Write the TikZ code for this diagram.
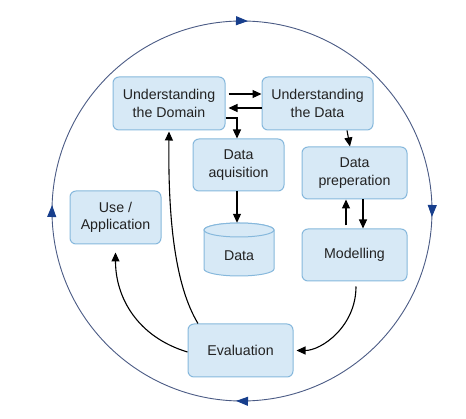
\documentclass[tikz,border=0pt]{standalone}
\usepackage{fontspec}
\setmainfont{Liberation Sans}
\usetikzlibrary{arrows.meta,decorations.markings}
\definecolor{boxfill}{HTML}{D7E9F6}
\definecolor{boxline}{HTML}{86B8DC}
\definecolor{ringline}{HTML}{4A5A84}
\definecolor{ringhead}{HTML}{173E8C}
\definecolor{txtcol}{HTML}{222222}
\begin{document}
\begin{tikzpicture}[x=1pt,y=-1pt,
  box/.style={draw=boxline,fill=boxfill,line width=1pt,rounded corners=6pt,
    align=center,text=txtcol,font=\fontsize{14.2}{17.3}\selectfont,inner sep=0pt},
  cylbox/.style={draw=boxline,fill=boxfill,line width=1pt},
  txt/.style={align=center,text=txtcol,font=\fontsize{14.2}{17.3}\selectfont,inner sep=0pt},
  arr/.style={-{Triangle[length=9pt,width=8pt]},line width=1.1pt,black},
  ring/.style={draw=ringline,line width=0.9pt,
    decoration={markings,
      mark=at position 0.005 with {\arrow{Triangle[length=12pt,width=9pt,color=ringhead]}},
      mark=at position 0.255 with {\arrow{Triangle[length=12pt,width=9pt,color=ringhead]}},
      mark=at position 0.505 with {\arrow{Triangle[length=12pt,width=9pt,color=ringhead]}},
      mark=at position 0.755 with {\arrow{Triangle[length=12pt,width=9pt,color=ringhead]}}},
    postaction={decorate}}]
\useasboundingbox (0,0) rectangle (466,419);
% outer cycle
\path[ring] (432,211) arc[start angle=0,end angle=-360,radius=190pt];
% boxes
\node[box,minimum width=112pt,minimum height=53pt] (dom) at (169,103.5) {Understanding\\the Domain};
\node[box,minimum width=111pt,minimum height=53pt] (dat) at (317.5,103.5) {Understanding\\the Data};
\node[box,minimum width=91pt,minimum height=52pt] (acq) at (238.5,165) {Data\\aquisition};
\node[box,minimum width=105pt,minimum height=52pt] (prep) at (354.5,173) {Data\\preperation};
\node[box,minimum width=91pt,minimum height=53pt] (use) at (115.5,217.5) {Use /\\Application};
\node[box,minimum width=105pt,minimum height=52pt] (mod) at (354.5,255) {Modelling};
\node[box,minimum width=105pt,minimum height=53pt] (eval) at (240.5,350.5) {Evaluation};
% cylinder
\filldraw[cylbox] (204,230) -- (204,269) arc[start angle=180,end angle=360,x radius=35pt,y radius=7pt]
  -- (274,230) arc[start angle=0,end angle=180,x radius=35pt,y radius=7pt] -- cycle;
\draw[cylbox] (239,230) ellipse[x radius=35pt,y radius=7pt];
\node[txt,minimum width=70pt,minimum height=66pt] (data) at (239,256) {Data};
% connectors
\draw[arr] ([xshift=3pt,yshift=9.5pt]dom.east) -- ([yshift=9.5pt]dat.west);
\draw[arr] ([yshift=-4.5pt]dat.west) -- ([xshift=3pt,yshift=-4.5pt]dom.east);
\draw[arr] ([yshift=-14.5pt]dom.east) -| ([xshift=-1.5pt]acq.north);
\draw[arr] ([xshift=29.5pt]dat.south) -- ([xshift=-4.5pt]prep.north);
\draw[arr] ([xshift=-1.5pt]acq.south) -- ([xshift=-2pt]data.north);
\draw[arr] ([xshift=-8.5pt,yshift=3pt]mod.north) -- ([xshift=-8.5pt]prep.south);
\draw[arr] ([xshift=8.5pt]prep.south) -- ([xshift=8.5pt]mod.north);
\draw[arr] ([xshift=1.5pt,yshift=-5pt]mod.south) .. controls +(0,40) and +(25,0) .. ([xshift=3pt]eval.east);
\draw[arr] ([yshift=-1.5pt]eval.west) .. controls +(-50,-15) and +(0,45) .. ([yshift=-8pt]use.south);
\draw[arr] ([xshift=-42.5pt]eval.north) .. controls +(-23,-38) and +(-1,88) .. ([yshift=-1pt]dom.south);
\end{tikzpicture}
\end{document}
